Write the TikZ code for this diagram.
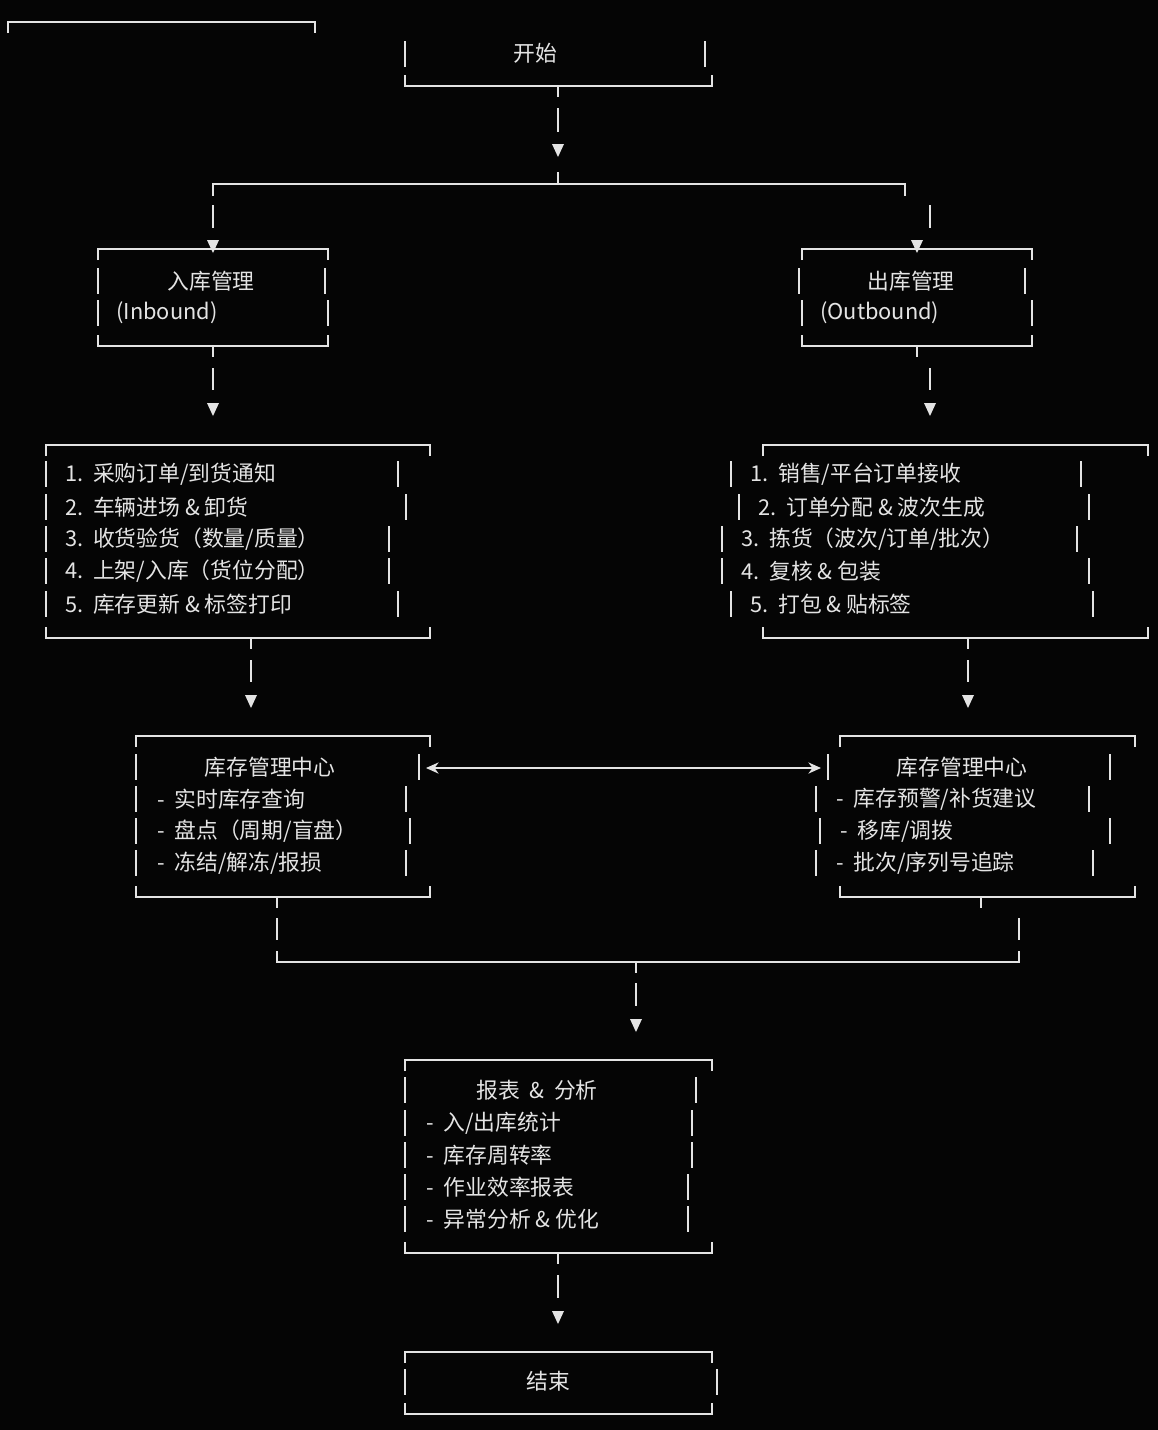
\documentclass[tikz,border=0pt]{standalone}
\usepackage{fontspec}
\setmainfont{Noto Sans CJK SC}
\usetikzlibrary{arrows.meta,positioning}
\definecolor{bg}{HTML}{050505}
\definecolor{fg}{HTML}{E4E4E4}
\tikzset{
  wire/.style={draw=fg, line width=1.1pt},
  txt/.style={text=fg, inner sep=0pt, font=\fontsize{15.5}{18}\selectfont},
  lefttxt/.style={txt, anchor=west},
}
% bracket top: x1, x2, y (ticks down)
\newcommand{\btop}[3]{\draw[wire] (#1,#3+11) -- (#1,#3) -- (#2,#3) -- (#2,#3+11);}
% bracket bottom: x1, x2, y (ticks up)
\newcommand{\bbot}[3]{\draw[wire] (#1,#3-11) -- (#1,#3) -- (#2,#3) -- (#2,#3-11);}
% side bar at x, row centre y
\newcommand{\sidebar}[2]{\draw[wire] (#1,#2-13) -- (#1,#2+13);}
% arrow head
\newcommand{\tri}[2]{\fill[fg] (#1-6,#2-7) -- (#1+6,#2-7) -- (#1,#2+6) -- cycle;}
\begin{document}
\begin{tikzpicture}[x=0.025cm, y=-0.025cm]
  \fill[bg] (0,0) rectangle (1158,1430);
  \useasboundingbox (0,0) rectangle (1158,1430);

  % stray top line
  \btop{8}{315}{22}

  % start
  \node[txt] (start) at (535,53) {开始};
  \sidebar{405}{54} \sidebar{705}{54}
  \bbot{405}{712}{86}
  \coordinate (s1) at (558,86); \coordinate (s2) at (558,97);
  \coordinate (s3) at (558,108); \coordinate (s4) at (558,132);
  \draw[wire] (s1) -- (s2); \draw[wire] (s3) -- (s4);
  \tri{558}{151}

  % split
  \coordinate (sp0) at (558,172); \coordinate (sp) at (558,184);
  \coordinate (spl) at (213,184); \coordinate (spr) at (905,184);
  \draw[wire] (sp0) -- (sp);
  \draw[wire] ([yshift=-0.3cm]spl) -- (spl) -- (spr) -- ([yshift=-0.3cm]spr);
  \coordinate (il1) at (213,205); \coordinate (il2) at (213,228);
  \coordinate (ol1) at (930,205); \coordinate (ol2) at (930,228);
  \draw[wire] (il1) -- (il2); \draw[wire] (ol1) -- (ol2);

  % inbound
  \btop{98}{328}{249}
  \tri{213}{247}
  \node[txt] (inb) at (211,281) {入库管理};
  \node[lefttxt] (inben) at (116,313) {(Inbound)};
  \sidebar{98}{281} \sidebar{325}{281} \sidebar{98}{313} \sidebar{328}{313}
  \bbot{98}{328}{346}
  \draw[wire] (213,346) -- (213,357);
  \coordinate (ia1) at (213,368); \coordinate (ia2) at (213,390);
  \draw[wire] (ia1) -- (ia2);
  \tri{213}{410}

  % outbound
  \btop{802}{1032}{249}
  \tri{917}{247}
  \node[txt] (outb) at (911,281) {出库管理};
  \node[lefttxt] (outben) at (820,313) {(Outbound)};
  \sidebar{799}{281} \sidebar{1025}{281} \sidebar{802}{313} \sidebar{1032}{313}
  \bbot{802}{1032}{346}
  \draw[wire] (917,346) -- (917,357);
  \coordinate (oa1) at (930,368); \coordinate (oa2) at (930,390);
  \draw[wire] (oa1) -- (oa2);
  \tri{930}{410}

  % inbound steps
  \btop{46}{430}{445}
  \foreach \y/\xr/\t [count=\i] in {
      474/398/{1.~~采购订单/到货通知},
      507/406/{2.~~车辆进场~\&~卸货},
      539/389/{3.~~收货验货（数量/质量）},
      571/389/{4.~~上架/入库（货位分配）},
      604/398/{5.~~库存更新~\&~标签打印}}{
    \node[lefttxt] (is\i) at (65,\y) {\t};
    \sidebar{46}{\y} \sidebar{\xr}{\y}
  }
  \bbot{46}{430}{638}
  \draw[wire] (251,638) -- (251,649);
  \coordinate (ib1) at (251,660); \coordinate (ib2) at (251,682);
  \draw[wire] (ib1) -- (ib2);
  \tri{251}{702}

  % outbound steps
  \btop{763}{1148}{445}
  \foreach \y/\xl/\xr/\xt/\t [count=\i] in {
      474/731/1081/750/{1.~~销售/平台订单接收},
      507/739/1089/758/{2.~~订单分配~\&~波次生成},
      539/722/1077/741/{3.~~拣货（波次/订单/批次）},
      571/722/1089/741/{4.~~复核~\&~包装},
      604/731/1093/750/{5.~~打包~\&~贴标签}}{
    \node[lefttxt] (os\i) at (\xt,\y) {\t};
    \sidebar{\xl}{\y} \sidebar{\xr}{\y}
  }
  \bbot{763}{1148}{638}
  \draw[wire] (968,638) -- (968,649);
  \coordinate (ob1) at (968,660); \coordinate (ob2) at (968,682);
  \draw[wire] (ob1) -- (ob2);
  \tri{968}{702}

  % stock centre left
  \btop{136}{430}{736}
  \node[txt] (cl) at (270,767) {库存管理中心};
  \sidebar{136}{767} \sidebar{419}{767}
  \foreach \y/\xr/\t [count=\i] in {
      799/406/{-~~实时库存查询},
      831/410/{-~~盘点（周期/盲盘）},
      863/406/{-~~冻结/解冻/报损}}{
    \node[lefttxt] (cl\i) at (157,\y) {\t};
    \sidebar{136}{\y} \sidebar{\xr}{\y}
  }
  \bbot{136}{430}{897}
  \draw[wire] (277,897) -- (277,908);

  % stock centre right
  \btop{840}{1135}{736}
  \node[txt] (cr) at (962,767) {库存管理中心};
  \sidebar{828}{767} \sidebar{1110}{767}
  \foreach \y/\xl/\xr/\xt/\t [count=\i] in {
      799/816/1089/836/{-~~库存预警/补货建议},
      831/820/1110/840/{-~~移库/调拨},
      863/816/1093/836/{-~~批次/序列号追踪}}{
    \node[lefttxt] (cr\i) at (\xt,\y) {\t};
    \sidebar{\xl}{\y} \sidebar{\xr}{\y}
  }
  \bbot{840}{1135}{897}
  \draw[wire] (981,897) -- (981,908);

  % sync
  \coordinate (syl) at (426,768); \coordinate (syr) at (821,768);
  \draw[wire, {Stealth[length=9pt,width=8pt]}-{Stealth[length=9pt,width=8pt]}] (syl) -- (syr);

  % merge
  \coordinate (ml1) at (277,918); \coordinate (ml2) at (277,940);
  \coordinate (mr1) at (1019,918); \coordinate (mr2) at (1019,940);
  \draw[wire] (ml1) -- (ml2); \draw[wire] (mr1) -- (mr2);
  \bbot{277}{1019}{962}
  \draw[wire] (636,962) -- (636,973);
  \coordinate (m1) at (636,983); \coordinate (m2) at (636,1006);
  \draw[wire] (m1) -- (m2);
  \tri{636}{1026}

  % report
  \btop{405}{712}{1060}
  \node[txt] (rep) at (537,1090) {报表~~\&~~分析};
  \sidebar{405}{1090} \sidebar{696}{1090}
  \foreach \y/\xr/\t [count=\i] in {
      1123/692/{-~~入/出库统计},
      1155/692/{-~~库存周转率},
      1187/688/{-~~作业效率报表},
      1219/688/{-~~异常分析~\&~优化}}{
    \node[lefttxt] (rep\i) at (426,\y) {\t};
    \sidebar{405}{\y} \sidebar{\xr}{\y}
  }
  \bbot{405}{712}{1253}
  \draw[wire] (558,1253) -- (558,1264);
  \coordinate (r1) at (558,1275); \coordinate (r2) at (558,1298);
  \draw[wire] (r1) -- (r2);
  \tri{558}{1318}

  % end
  \btop{405}{712}{1352}
  \node[txt] (end) at (548,1381) {结束};
  \sidebar{405}{1382} \sidebar{717}{1382}
  \bbot{405}{712}{1414}
\end{tikzpicture}
\end{document}
